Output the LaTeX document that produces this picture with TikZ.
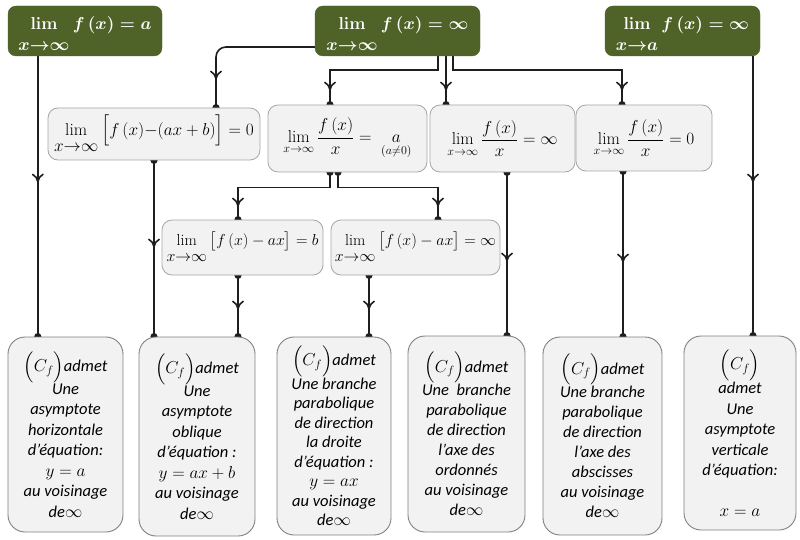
\documentclass[tikz,border=0pt]{standalone}
\usepackage{amsmath}
\usepackage{fontspec}
\newfontfamily\carl{Carlito}
\usetikzlibrary{arrows.meta,decorations.markings,backgrounds}
\definecolor{topgreen}{HTML}{4F6228}
\definecolor{boxgray}{HTML}{F2F2F2}
\definecolor{edgegray}{HTML}{A6A6A6}
\definecolor{lc}{HTML}{1E1E1E}
\newcommand{\limr}[2][13pt]{\mathop{\mathrm{lim}}\limits_{\rule{0pt}{#1}\textstyle #2}}
\newcommand{\limB}[1]{\mathop{\mathbf{lim}}\limits_{\rule{0pt}{18pt}\textstyle #1}}
\newcommand{\Cf}{\Big(C_f\Big)}
\begin{document}
\begin{tikzpicture}[x=1pt,y=-1pt,
  topbox/.style={fill=topgreen, draw=topgreen, rounded corners=8pt, text=white, inner sep=0pt,
    font=\fontsize{17.28}{20}\selectfont\boldmath},
  midbox/.style={fill=boxgray, draw=edgegray, line width=0.8pt, rounded corners=10pt, inner sep=0pt},
  botbox/.style={fill=boxgray, draw=gray, line width=0.9pt, rounded corners=17pt, inner sep=0pt,
    align=center, font=\carl\itshape\fontsize{16.5}{20.5}\selectfont},
  cn/.style={draw=lc, line width=1.6pt},
  ball/.style={shorten >=-3.5pt},
  balls/.style={shorten >=-3.5pt, shorten <=-3.5pt},
  mk/.style={postaction={decorate}, decoration={markings,
    mark=at position #1 with {\arrow[lc]{Computer Modern Rightarrow[length=9pt,width=12pt,line width=1.6pt]}}}}
]
\useasboundingbox (0,0) rectangle (800,540);

% top boxes
\node[topbox, minimum width=154pt, minimum height=50pt] (T1) at (85,31) {\rule{0pt}{19pt}$\limB{x{\to}\infty} f\,(x)=a$};
\node[topbox, minimum width=165pt, minimum height=50pt] (T2) at (397.5,31) {\rule{0pt}{19pt}$\limB{x{\to}\infty} f\,(x)=\infty$};
\node[topbox, minimum width=155pt, minimum height=50pt] (T3) at (682.5,31) {\rule{0pt}{19pt}$\limB{x{\to}a} f\,(x)=\infty$};

% middle boxes
\node[midbox, minimum width=212pt, minimum height=52pt, font=\fontsize{17.28}{20}\selectfont] (M1) at (154,134)
  {$\limr{x{\to}\infty}\Big[f\,(x){-}(ax+b)\Big]=0$};
\node[midbox, minimum width=159pt, minimum height=67pt, font=\fontsize{17.28}{20}\selectfont] (M2) at (347.5,138.5)
  {$\displaystyle\lim_{x\to\infty}\frac{f\,(x)}{x}=\;\underset{(a\neq0)}{a}$};
\node[midbox, minimum width=145pt, minimum height=67pt, font=\fontsize{17.28}{20}\selectfont] (M3) at (502.5,138.5)
  {$\displaystyle\lim_{x\to\infty}\frac{f\,(x)}{x}=\infty$};
\node[midbox, minimum width=136pt, minimum height=66pt, font=\fontsize{17.28}{20}\selectfont] (M4) at (644,138)
  {$\displaystyle\lim_{x\to\infty}\frac{f\,(x)}{x}=0$};

% third row
\node[midbox, minimum width=161pt, minimum height=55pt, font=\fontsize{17.28}{20}\selectfont] (L1) at (242.5,247.5)
  {\scalebox{0.92}{$\limr[14pt]{x{\to}\infty}\big[f\,(x)-ax\big]=b$}};
\node[midbox, minimum width=169pt, minimum height=55pt, font=\fontsize{17.28}{20}\selectfont] (L2) at (415.5,247.5)
  {\scalebox{0.92}{$\limr[14pt]{x{\to}\infty}\big[f\,(x)-ax\big]=\infty$}};

% bottom boxes
\node[botbox, minimum width=115pt, minimum height=195pt] (B1) at (65.5,434.5)
  {$\Cf$admet\\ Une\\ asymptote\\ horizontale\\ d’équation:\\ $y=a$\\ au voisinage\\ de$\infty$};
\node[botbox, minimum width=116pt, minimum height=199pt] (B2) at (197,436.5)
  {$\Cf$admet\\ Une\\ asymptote\\ oblique\\ d’équation :\\ $y=ax+b$\\ au voisinage\\ de$\infty$};
\node[botbox, minimum width=114pt, minimum height=198pt, font=\carl\itshape\fontsize{16.5}{19.5}\selectfont] (B3) at (334,436)
  {$\Cf$admet\\ Une branche\\ parabolique\\ de direction\\ la droite\\ d’équation :\\ $y=ax$\\ au voisinage\\ de$\infty$};
\node[botbox, minimum width=117pt, minimum height=196pt, font=\carl\itshape\fontsize{16.5}{20}\selectfont] (B4) at (466.5,434)
  {$\Cf$admet\\ Une\ \ branche\\ parabolique\\ de direction\\ l’axe des\\ ordonnés\\ au voisinage\\ de$\infty$};
\node[botbox, minimum width=119pt, minimum height=198pt, font=\carl\itshape\fontsize{16.5}{20}\selectfont] (B5) at (602.5,436)
  {$\Cf$admet\\ Une branche\\ parabolique\\ de direction\\ l’axe des\\ abscisses\\ au voisinage\\ de$\infty$};
\node[botbox, minimum width=112pt, minimum height=194pt] (B6) at (740,433)
  {$\Cf$\\ admet\\ Une\\ asymptote\\ verticale\\ d’équation:\\[20pt] $x=a$};

% connector helper coordinates
\coordinate (p1) at ([xshift=30pt]T1.south west);
\coordinate (p2) at ([yshift=-16pt]T2.west);
\coordinate (e2) at ([xshift=62pt]M1.north);
\coordinate (p3) at ([xshift=40.5pt]T2.south);
\coordinate (k3) at ([yshift=-14pt]p3);
\coordinate (e3) at ([xshift=-17.5pt]M2.north);
\coordinate (p4) at ([xshift=48.5pt]T2.south);
\coordinate (p5) at ([xshift=55.5pt]T2.south);
\coordinate (k5) at ([yshift=-14pt]p5);
\coordinate (e5) at ([xshift=-22pt]M4.north);
\coordinate (p6) at ([xshift=70.5pt]T3.south);
\coordinate (p8) at ([xshift=-17.5pt]M2.south);
\coordinate (k8) at ([yshift=-15pt]p8);
\coordinate (e8) at ([xshift=-4.5pt]L1.north);
\coordinate (p9) at ([xshift=-9.5pt]M2.south);
\coordinate (k9) at ([yshift=-15pt]p9);
\coordinate (e9) at ([xshift=22.5pt]L2.north);
\coordinate (p10) at ([xshift=4.5pt]M3.south);
\coordinate (p11) at ([xshift=-21pt]M4.south);
\coordinate (p12) at ([xshift=-4.5pt]L1.south);
\coordinate (p13) at ([xshift=-46.5pt]L2.south);

\begin{scope}[on background layer]
  \draw[cn, -{Circle[length=7pt]}, ball, mk=-154pt] (p1) -- (p1 |- B1.north);
  \draw[cn, -{Circle[length=7pt]}, ball, rounded corners=10pt, mk=-28pt] (p2) -| (e2);
  \draw[cn, -{Circle[length=7pt]}, ball, mk=-14pt] (p3) -- (k3) -- (k3 -| e3) [rounded corners=10pt] -- (e3);
  \draw[cn, -{Circle[length=7pt]}, ball, mk=-14pt] (p4) -- (p4 |- M3.north);
  \draw[cn, -{Circle[length=7pt]}, ball, mk=-14pt] (p5) -- (k5) -- (k5 -| e5) [rounded corners=10pt] -- (e5);
  \draw[cn, -{Circle[length=7pt]}, ball, mk=-153pt] (p6) -- (p6 |- B6.north);
  \draw[cn, {Circle[length=7pt]}-{Circle[length=7pt]}, balls, mk=-89pt] (M1.south) -- (M1.south |- B2.north);
  \draw[cn, {Circle[length=7pt]}-{Circle[length=7pt]}, balls, mk=-13pt] (p8) -- (k8) -- (k8 -| e8) [rounded corners=10pt] -- (e8);
  \draw[cn, {Circle[length=7pt]}-{Circle[length=7pt]}, balls, mk=-13pt] (p9) -- (k9) -- (k9 -| e9) [rounded corners=10pt] -- (e9);
  \draw[cn, {Circle[length=7pt]}-{Circle[length=7pt]}, balls, mk=-74pt] (p10) -- (p10 |- B4.north);
  \draw[cn, {Circle[length=7pt]}-{Circle[length=7pt]}, balls, mk=-74pt] (p11) -- (p11 |- B5.north);
  \draw[cn, {Circle[length=7pt]}-{Circle[length=7pt]}, balls, mk=-27pt] (p12) -- (p12 |- B2.north);
  \draw[cn, {Circle[length=7pt]}-{Circle[length=7pt]}, balls, mk=-27pt] (p13) -- (p13 |- B3.north);
\end{scope}
\end{tikzpicture}
\end{document}
